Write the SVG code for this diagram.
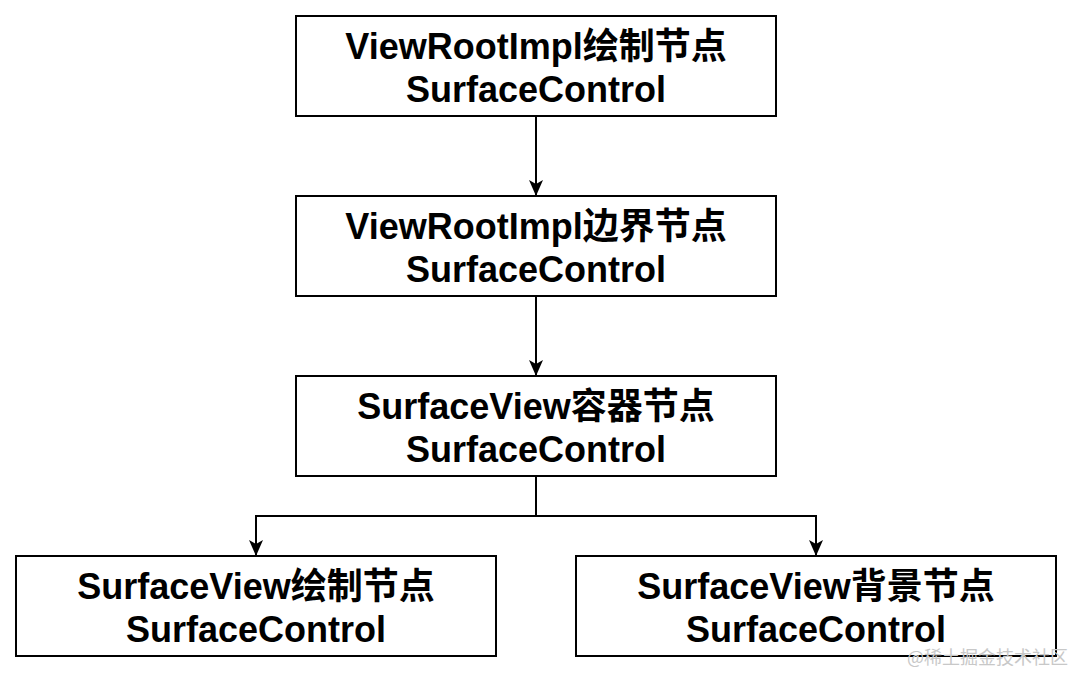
<svg xmlns="http://www.w3.org/2000/svg" width="1074" height="674" viewBox="0 0 1074 674">
<style>
.box{fill:#fff;stroke:#000;stroke-width:2}
.t{font-family:"Liberation Sans","Noto Sans CJK SC",sans-serif;font-size:36px;font-weight:bold;text-anchor:middle;fill:#000}
.c{fill:none;stroke:#000;stroke-width:2}
.wm{font-family:"Noto Sans CJK SC",sans-serif;font-size:18px;fill:#c8c8c8}
</style>
<defs><marker id="b" markerWidth="16" markerHeight="16" refX="15" refY="8" orient="auto" markerUnits="userSpaceOnUse" viewBox="0 0 16 16"><path d="M0,1 L16,8 L0,15 L4,8 Z" fill="#000"/></marker></defs>
<rect width="1074" height="674" fill="#fff"/>
<g id="connectors">
<path class="c" d="M536,116 V195" marker-end="url(#b)"/>
<path class="c" d="M536,296 V375" marker-end="url(#b)"/>
<path class="c" d="M536,476 V516 H256 V555" marker-end="url(#b)"/>
<path class="c" d="M536,516 H816 V555" marker-end="url(#b)"/>
</g>
<g id="n1"><rect class="box" x="296" y="16" width="480" height="100"/><text class="t" x="536" y="59">ViewRootImpl绘制节点</text><text class="t" x="536" y="102">SurfaceControl</text></g>
<g id="n2"><rect class="box" x="296" y="196" width="480" height="100"/><text class="t" x="536" y="239">ViewRootImpl边界节点</text><text class="t" x="536" y="282">SurfaceControl</text></g>
<g id="n3"><rect class="box" x="296" y="376" width="480" height="100"/><text class="t" x="536" y="419">SurfaceView容器节点</text><text class="t" x="536" y="462">SurfaceControl</text></g>
<g id="n4"><rect class="box" x="16" y="556" width="480" height="100"/><text class="t" x="256" y="599">SurfaceView绘制节点</text><text class="t" x="256" y="642">SurfaceControl</text></g>
<g id="n5"><rect class="box" x="576" y="556" width="480" height="100"/><text class="t" x="816" y="599">SurfaceView背景节点</text><text class="t" x="816" y="642">SurfaceControl</text></g>
<text class="wm" x="1068" y="664" text-anchor="end">@稀土掘金技术社区</text>
</svg>
